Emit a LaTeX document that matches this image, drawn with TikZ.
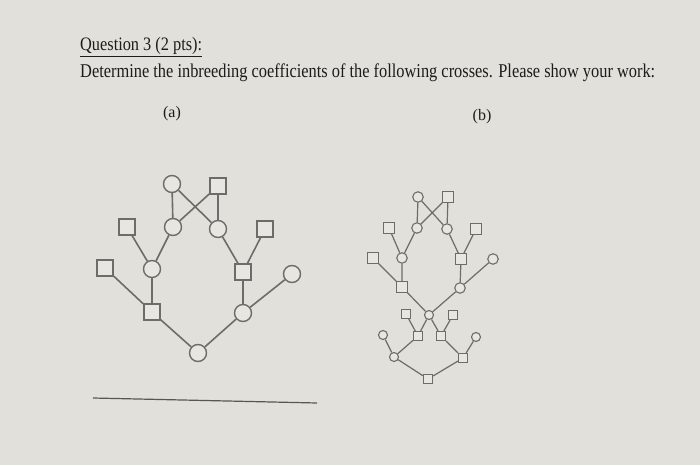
\documentclass[tikz,border=0pt]{standalone}
\usepackage{fontspec}
\setmainfont{Liberation Serif}
\usepackage{graphicx}
\definecolor{bg}{RGB}{226,224,218}
\definecolor{nodefill}{RGB}{232,230,225}
\definecolor{pedline}{RGB}{108,108,106}
\definecolor{ink}{RGB}{28,28,28}
\begin{document}
\begin{tikzpicture}[x=1pt,y=-1pt,
  sqA/.style={rectangle,draw=pedline,fill=nodefill,minimum size=16pt,inner sep=0pt,line width=1.4pt},
  ciA/.style={circle,draw=pedline,fill=nodefill,minimum size=17pt,inner sep=0pt,line width=1.4pt},
  sqB/.style={rectangle,draw=pedline,fill=nodefill,minimum size=10.5pt,inner sep=0pt,line width=1.1pt},
  ciB/.style={circle,draw=pedline,fill=nodefill,minimum size=10.5pt,inner sep=0pt,line width=1.1pt},
  sqC/.style={rectangle,draw=pedline,fill=nodefill,minimum size=9pt,inner sep=0pt,line width=1.1pt},
  ciC/.style={circle,draw=pedline,fill=nodefill,minimum size=9pt,inner sep=0pt,line width=1.1pt},
  edA/.style={draw=pedline,line width=1.6pt},
  edB/.style={draw=pedline,line width=1.2pt},
  txt/.style={inner sep=0pt,text=ink,anchor=base west}]
\fill[bg] (0,0) rectangle (700,465);
\useasboundingbox (0,0) rectangle (700,465);

% header text
\node[txt] (q) at (80,51) {\fontsize{19}{21}\selectfont\resizebox{122pt}{\height}{\underline{Question 3 (2 pts):}}};
\node[txt] (d) at (80,78) {\fontsize{19.5}{21}\selectfont\resizebox{575pt}{\height}{Determine the inbreeding coefficients of the following crosses. Please show your work:}};
\node[inner sep=0pt,text=ink] (la) at (172,114) {\fontsize{16}{18}\selectfont (a)};
\node[inner sep=0pt,text=ink] (lb) at (482,117) {\fontsize{16}{18}\selectfont (b)};

% pedigree (a)
\node[ciA] (a1) at (172,184) {};
\node[sqA] (a2) at (218,186) {};
\node[ciA] (a3) at (173,227) {};
\node[ciA] (a4) at (218,229) {};
\node[sqA] (a5) at (127,227) {};
\node[sqA] (a6) at (265,229) {};
\node[ciA] (a7) at (152,269) {};
\node[sqA] (a8) at (243,272) {};
\node[sqA] (a9) at (105,268) {};
\node[ciA] (a10) at (292,274) {};
\node[sqA] (a11) at (152,312) {};
\node[ciA] (a12) at (243,313) {};
\node[ciA] (a13) at (198,353) {};
\path[edA] (a1)--(a3) (a1)--(a4) (a2)--(a3) (a2)--(a4)
  (a5)--(a7) (a3)--(a7) (a7)--(a11) (a9)--(a11)
  (a4)--(a8) (a6)--(a8) (a8)--(a12) (a10)--(a12)
  (a11)--(a13) (a12)--(a13);

% pedigree (b)
\node[ciB] (b1) at (418,197) {};
\node[sqB] (b2) at (448,197) {};
\node[ciB] (b3) at (417,228) {};
\node[ciB] (b4) at (447,229) {};
\node[sqB] (b5) at (389,228) {};
\node[sqB] (b6) at (476,229) {};
\node[ciB] (b7) at (402,258) {};
\node[sqB] (b8) at (461,259) {};
\node[sqB] (b9) at (373,258) {};
\node[ciB] (b10) at (493,259) {};
\node[sqB] (b11) at (402,287) {};
\node[ciB] (b12) at (460,288) {};
\node[ciC] (b13) at (429,315) {};
\node[sqC] (b14) at (406,314) {};
\node[sqC] (b15) at (453,315) {};
\node[sqC] (b16) at (418,336) {};
\node[sqC] (b17) at (441,336) {};
\node[ciC] (b18) at (383,335) {};
\node[ciC] (b19) at (476,337) {};
\node[ciC] (b20) at (394,357) {};
\node[sqC] (b21) at (463,358) {};
\node[sqC] (b22) at (428,379) {};
\path[edB] (b1)--(b3) (b1)--(b4) (b2)--(b3) (b2)--(b4)
  (b5)--(b7) (b3)--(b7) (b7)--(b11) (b9)--(b11)
  (b4)--(b8) (b6)--(b8) (b8)--(b12) (b10)--(b12)
  (b11)--(b13) (b12)--(b13)
  (b13)--(b16) (b13)--(b17) (b14)--(b16) (b15)--(b17)
  (b16)--(b20) (b18)--(b20) (b17)--(b21) (b19)--(b21)
  (b20)--(b22) (b21)--(b22);

% answer line
\coordinate (l1) at (93,398);
\coordinate (l2) at (317,403);
\draw[draw=pedline!80!black,line width=1.2pt] (l1)--(l2);
\end{tikzpicture}
\end{document}
